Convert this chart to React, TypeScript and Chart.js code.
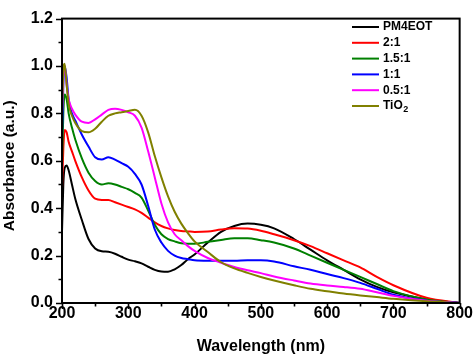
import React, { useEffect, useRef } from "react";
import { Chart, registerables } from "chart.js";

Chart.register(...registerables);

const wavelengths = [200, 202, 204, 207, 210, 215, 220, 230, 240, 250, 260, 270, 280, 290, 300, 310, 320, 330, 340, 350, 360, 370, 380, 390, 400, 420, 440, 460, 480, 500, 520, 550, 575, 600, 625, 650, 675, 700, 750, 800];

const pm4eot = [0.30, 0.50, 0.57, 0.58, 0.56, 0.50, 0.44, 0.35, 0.27, 0.23, 0.218, 0.216, 0.208, 0.195, 0.183, 0.176, 0.167, 0.153, 0.14, 0.133, 0.132, 0.142, 0.16, 0.185, 0.205, 0.255, 0.30, 0.325, 0.335, 0.33, 0.315, 0.27, 0.225, 0.18, 0.14, 0.10, 0.068, 0.045, 0.015, 0.0];
const r21 = [0.48, 0.65, 0.73, 0.72, 0.68, 0.64, 0.60, 0.53, 0.475, 0.44, 0.435, 0.435, 0.425, 0.415, 0.405, 0.395, 0.38, 0.36, 0.34, 0.325, 0.315, 0.308, 0.304, 0.302, 0.30, 0.302, 0.31, 0.315, 0.314, 0.305, 0.29, 0.265, 0.24, 0.21, 0.18, 0.15, 0.11, 0.075, 0.022, 0.0];
const r151 = [0.58, 0.80, 0.88, 0.86, 0.80, 0.74, 0.69, 0.61, 0.55, 0.515, 0.50, 0.505, 0.50, 0.49, 0.48, 0.465, 0.445, 0.39, 0.33, 0.29, 0.27, 0.26, 0.252, 0.25, 0.25, 0.258, 0.266, 0.273, 0.273, 0.265, 0.255, 0.23, 0.20, 0.17, 0.14, 0.11, 0.08, 0.05, 0.015, 0.0];
const r11 = [0.70, 0.92, 1.0, 0.95, 0.86, 0.80, 0.77, 0.71, 0.66, 0.615, 0.605, 0.615, 0.605, 0.59, 0.575, 0.545, 0.50, 0.41, 0.31, 0.255, 0.22, 0.20, 0.19, 0.185, 0.18, 0.178, 0.178, 0.178, 0.18, 0.18, 0.175, 0.155, 0.14, 0.122, 0.105, 0.085, 0.06, 0.035, 0.01, 0.0];
const r051 = [0.80, 0.96, 1.0, 0.92, 0.86, 0.82, 0.795, 0.765, 0.76, 0.775, 0.795, 0.815, 0.82, 0.815, 0.805, 0.79, 0.74, 0.64, 0.53, 0.42, 0.34, 0.29, 0.265, 0.24, 0.22, 0.19, 0.17, 0.152, 0.138, 0.126, 0.112, 0.095, 0.082, 0.074, 0.068, 0.06, 0.045, 0.03, 0.01, 0.0];
const tio2 = [0.80, 0.98, 1.01, 0.92, 0.84, 0.79, 0.76, 0.725, 0.72, 0.735, 0.765, 0.79, 0.80, 0.805, 0.81, 0.815, 0.79, 0.72, 0.62, 0.53, 0.45, 0.385, 0.335, 0.295, 0.26, 0.215, 0.172, 0.146, 0.127, 0.11, 0.095, 0.075, 0.06, 0.05, 0.04, 0.032, 0.025, 0.018, 0.007, 0.0];

const seriesNames = ["PM4EOT", "2:1", "1.5:1", "1:1", "0.5:1", "TiO2"];
const seriesValues = [pm4eot, r21, r151, r11, r051, tio2];
const seriesColors = ["#000000", "#ff0000", "#008000", "#0000ff", "#ff00ff", "#808000"];

const xTickValues = [200, 300, 400, 500, 600, 700, 800];
const yTickValues = [0, 0.2, 0.4, 0.6, 0.8, 1.0, 1.2];

const FONT = "'Liberation Sans', Arial, sans-serif";

const decorPlugin = {
  id: "decor",
  afterDraw(chart: any) {
    const ctx = chart.ctx;
    const { left, right, top, bottom } = chart.chartArea;
    const xs = chart.scales.x;
    const ys = chart.scales.y;
    ctx.save();
    ctx.strokeStyle = "#000";
    ctx.lineWidth = 2;
    ctx.strokeRect(left, top, right - left, bottom - top);
    ctx.lineWidth = 1.6;
    ctx.beginPath();
    for (let i = 0; i <= 12; i++) {
      const v = i / 10;
      const py = Math.round(ys.getPixelForValue(v)) + 0.5;
      const len = i % 2 === 0 ? 6 : 3.5;
      ctx.moveTo(left, py);
      ctx.lineTo(left - len, py);
    }
    for (let w = 200; w <= 800; w += 50) {
      const px = Math.round(xs.getPixelForValue(w)) + 0.5;
      const len = w % 100 === 0 ? 6 : 3.5;
      ctx.moveTo(px, bottom);
      ctx.lineTo(px, bottom + len);
    }
    ctx.stroke();

    // axis titles
    ctx.fillStyle = "#000";
    ctx.font = `bold 16px ${FONT}`;
    ctx.textAlign = "center";
    ctx.textBaseline = "middle";
    ctx.fillText("Wavelength (nm)", (left + right) / 2, 347);
    ctx.save();
    ctx.translate(10, (top + bottom) / 2 + 5);
    ctx.rotate(-Math.PI / 2);
    ctx.font = `bold 15.5px ${FONT}`;
    ctx.fillText("Absorbance (a.u.)", 0, 0);
    ctx.restore();

    // legend
    const lx0 = 352, lx1 = 379, tx = 383, y0 = 27, dy = 15.8;
    seriesNames.forEach((name, i) => {
      const y = y0 + i * dy;
      ctx.strokeStyle = seriesColors[i];
      ctx.lineWidth = 2;
      ctx.beginPath();
      ctx.moveTo(lx0, y);
      ctx.lineTo(lx1, y);
      ctx.stroke();
      ctx.fillStyle = "#000";
      ctx.textAlign = "left";
      ctx.textBaseline = "middle";
      ctx.font = `bold 12px ${FONT}`;
      if (name === "TiO2") {
        ctx.fillText("TiO", tx, y);
        const w = ctx.measureText("TiO").width;
        ctx.font = `bold 9px ${FONT}`;
        ctx.fillText("2", tx + w + 0.5, y + 4);
      } else {
        ctx.fillText(name, tx, y);
      }
    });
    ctx.restore();
  },
};

export default function App() {
  const ref = useRef<HTMLCanvasElement | null>(null);
  useEffect(() => {
    if (!ref.current) return;
    const datasets = seriesNames.map((name, i) => ({
      label: name,
      data: wavelengths.map((w, j) => ({ x: w, y: seriesValues[i][j] })),
      borderColor: seriesColors[i],
      backgroundColor: seriesColors[i],
      borderWidth: 2,
      pointRadius: 0,
      cubicInterpolationMode: "monotone" as const,
      fill: false,
      order: seriesNames.length - i,
    }));
    const chart = new Chart(ref.current, {
      type: "line",
      data: { datasets },
      options: {
        animation: false,
        responsive: false,
        maintainAspectRatio: false,
        layout: { padding: { top: 10, right: 14, left: 0, bottom: 0 } },
        plugins: { legend: { display: false }, tooltip: { enabled: false } },
        scales: {
          x: {
            type: "linear",
            min: 200,
            max: 800,
            afterBuildTicks: (s: any) => {
              s.ticks = xTickValues.map((v) => ({ value: v }));
            },
            afterFit: (s: any) => {
              s.height = 56;
            },
            ticks: {
              color: "#000",
              font: { family: FONT, size: 16, weight: "bold" },
              padding: 1,
              maxRotation: 0,
              autoSkip: false,
            },
            grid: { display: false, drawTicks: false },
            border: { display: false },
          },
          y: {
            type: "linear",
            min: 0,
            max: 1.2,
            afterBuildTicks: (s: any) => {
              s.ticks = yTickValues.map((v) => ({ value: v }));
            },
            afterFit: (s: any) => {
              s.width = 62;
            },
            ticks: {
              color: "#000",
              font: { family: FONT, size: 16, weight: "bold" },
              padding: 9,
              callback: (v: any) => Number(v).toFixed(1),
              autoSkip: false,
            },
            grid: { display: false, drawTicks: false },
            border: { display: false },
          },
        },
      },
      plugins: [decorPlugin],
    });
    return () => chart.destroy();
  }, []);
  return (
    <div style={{ position: "absolute", left: 0, top: 0, width: 474, height: 359, background: "#fff" }}>
      <canvas ref={ref} width={474} height={359} style={{ width: 474, height: 359 }} />
    </div>
  );
}
